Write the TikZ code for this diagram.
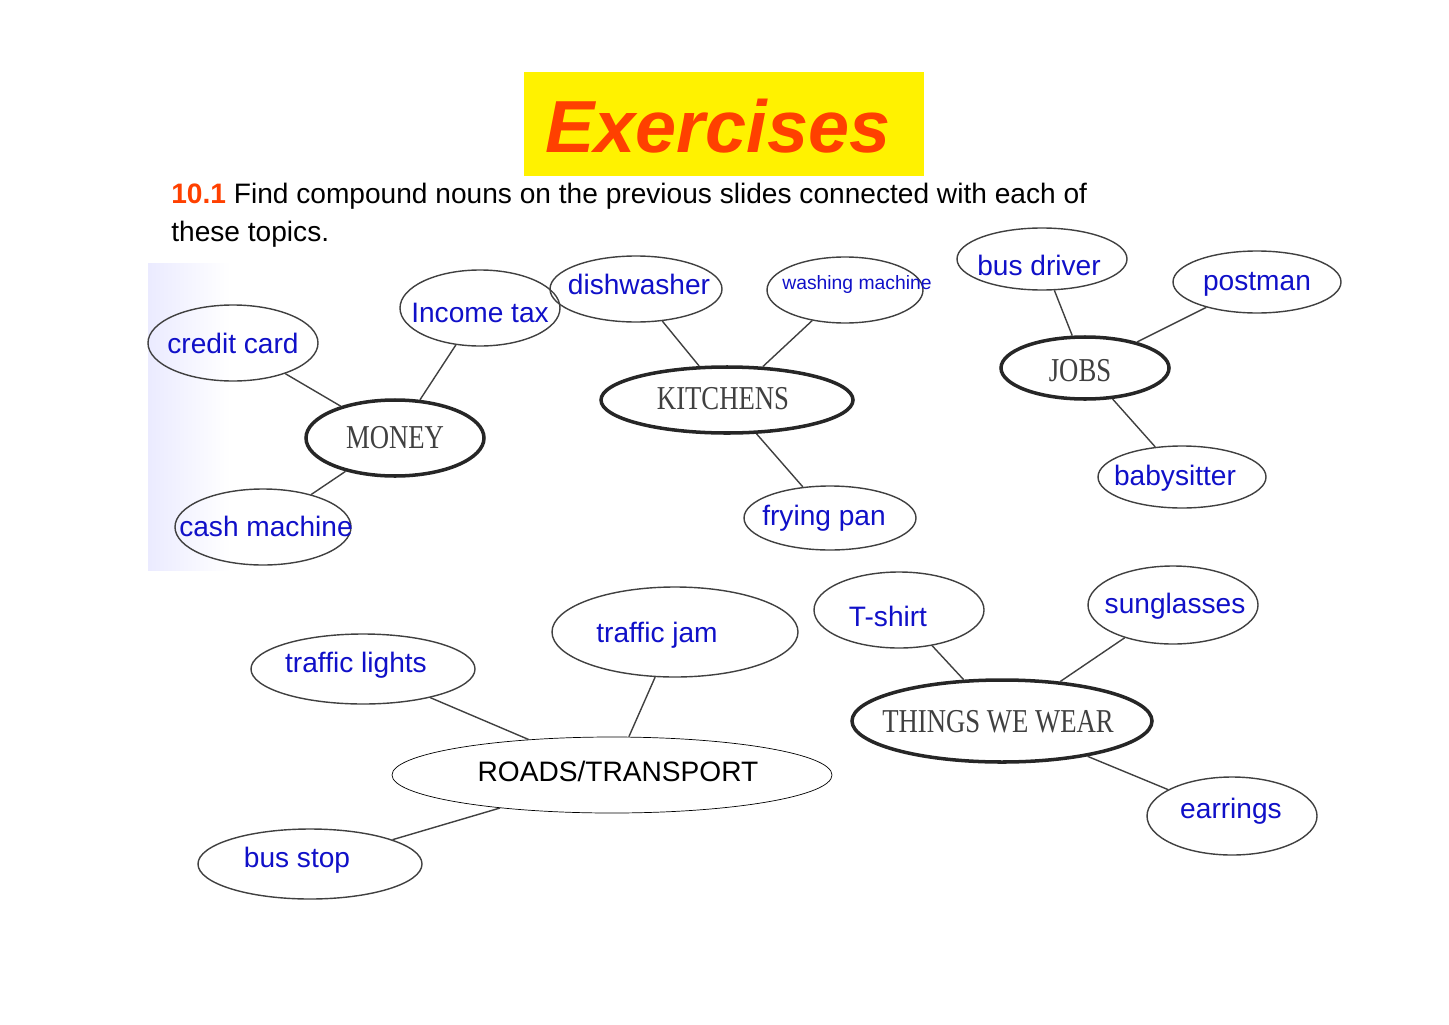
\documentclass[tikz,border=0pt]{standalone}
\usepackage{fontspec}
\setmainfont{Liberation Sans}
\newfontfamily\topicfont{Liberation Serif}
\usetikzlibrary{shapes.geometric}
\definecolor{lblue}{RGB}{16,16,200}
\definecolor{ttl}{RGB}{255,64,0}
\tikzset{
 lab/.style={ellipse,draw=black!75,thick,inner sep=0pt},
 labtxt/.style={text=lblue,font=\fontsize{16}{16}\selectfont,inner sep=0pt},
 topic/.style={ellipse,draw=black!85,line width=2pt,inner sep=0pt},
 toptxt/.style={text=black!75,font=\topicfont\fontsize{19}{19}\selectfont,inner sep=0pt,xscale=0.8},
 link/.style={draw=black!75,thick}
}
\begin{document}
\begin{tikzpicture}[x=0.02cm,y=-0.02cm]
\useasboundingbox (0,0) rectangle (1449,1024);
\shade[left color=blue!8,right color=white] (148,263) rectangle (230,570);
\fill[yellow] (524,72) rectangle (924,176);
\node (title) at (718,126) {\fontsize{42}{42}\selectfont\bfseries\itshape\color{ttl}Exercises};
\node[anchor=north west,align=left,inner sep=0pt,font=\fontsize{16}{21.5}\selectfont] (task) at (171,183) {{\color{ttl}\bfseries 10.1} Find compound nouns on the previous slides connected with each of\\these topics.};
% money
\node[lab,minimum width=170*0.02cm,minimum height=76*0.02cm] (cc) at (233,343) {};
\node[labtxt] at (233,343) {credit card};
\node[lab,minimum width=160*0.02cm,minimum height=76*0.02cm] (it) at (480,308) {};
\node[labtxt] at (480,313) {Income tax};
\node[topic,minimum width=178*0.02cm,minimum height=76*0.02cm] (money) at (395,438) {};
\node[toptxt] at (395,438) {MONEY};
\node[lab,minimum width=176*0.02cm,minimum height=76*0.02cm] (cm) at (263,527) {};
\node[labtxt] at (266,526) {cash machine};
% kitchens
\node[lab,minimum width=172*0.02cm,minimum height=66*0.02cm] (dw) at (636,289) {};
\node[labtxt] at (639,284) {dishwasher};
\node[lab,minimum width=156*0.02cm,minimum height=66*0.02cm] (wm) at (845,290) {};
\node[labtxt,font=\fontsize{11}{11}\selectfont] at (857,285) {washing machine};
\node[topic,minimum width=252*0.02cm,minimum height=66*0.02cm] (kit) at (727,400) {};
\node[toptxt] at (723,399) {KITCHENS};
\node[lab,minimum width=172*0.02cm,minimum height=64*0.02cm] (fp) at (830,518) {};
\node[labtxt] at (824,518) {frying pan};
% jobs
\node[lab,minimum width=170*0.02cm,minimum height=62*0.02cm] (bd) at (1042,259) {};
\node[labtxt] at (1039,265) {bus driver};
\node[lab,minimum width=168*0.02cm,minimum height=62*0.02cm] (pm) at (1257,282) {};
\node[labtxt] at (1257,284) {postman};
\node[topic,minimum width=168*0.02cm,minimum height=62*0.02cm] (jobs) at (1085,368) {};
\node[toptxt] at (1080,371) {JOBS};
\node[lab,minimum width=168*0.02cm,minimum height=62*0.02cm] (bs) at (1182,477) {};
\node[labtxt] at (1175,478) {babysitter};
% roads
\node[lab,minimum width=246*0.02cm,minimum height=90*0.02cm] (tj) at (675,632) {};
\node[labtxt] at (657,635) {traffic jam};
\node[lab,minimum width=224*0.02cm,minimum height=70*0.02cm] (tl) at (363,669) {};
\node[labtxt] at (356,665) {traffic lights};
\node[ellipse,draw,thin,inner sep=0pt,minimum width=440*0.02cm,minimum height=76*0.02cm] (roads) at (612,775) {};
\node[font=\fontsize{16}{16}\selectfont,inner sep=0pt] at (618,771) {ROADS/TRANSPORT};
\node[lab,minimum width=224*0.02cm,minimum height=70*0.02cm] (bst) at (310,864) {};
\node[labtxt] at (297,860) {bus stop};
% wear
\node[lab,minimum width=170*0.02cm,minimum height=76*0.02cm] (ts) at (899,610) {};
\node[labtxt] at (888,616) {T-shirt};
\node[lab,minimum width=170*0.02cm,minimum height=78*0.02cm] (sg) at (1173,605) {};
\node[labtxt] at (1175,606) {sunglasses};
\node[topic,minimum width=300*0.02cm,minimum height=82*0.02cm] (wear) at (1002,721) {};
\node[toptxt] at (998,722) {THINGS WE WEAR};
\node[lab,minimum width=170*0.02cm,minimum height=78*0.02cm] (er) at (1232,816) {};
\node[labtxt] at (1231,811) {earrings};
% links
\draw[link] (money) -- (cc); \draw[link] (money) -- (it); \draw[link] (money) -- (cm);
\draw[link] (kit) -- (dw); \draw[link] (kit) -- (wm); \draw[link] (kit) -- (fp);
\draw[link] (jobs) -- (bd); \draw[link] (jobs) -- (pm); \draw[link] (jobs) -- (bs);
\draw[link] (roads) -- (tj); \draw[link] (roads) -- (tl); \draw[link] (roads) -- (bst);
\draw[link] (wear) -- (ts); \draw[link] (wear) -- (sg); \draw[link] (wear) -- (er);
\end{tikzpicture}
\end{document}
